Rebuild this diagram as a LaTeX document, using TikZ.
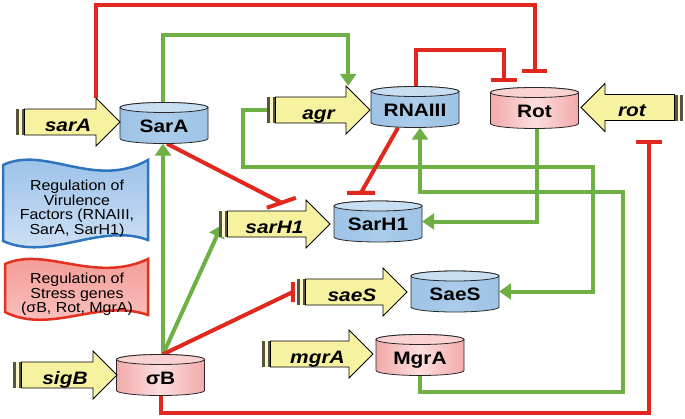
\documentclass[tikz,border=0pt]{standalone}
\usepackage{fontspec}
\setmainfont{Liberation Sans}
\newfontfamily\labfont[FakeStretch=1.16]{Liberation Sans}
\newfontfamily\banfont[FakeStretch=1.1]{Liberation Sans}
\usetikzlibrary{arrows.meta,calc}
\pgfdeclarelayer{canvas}
\pgfdeclarelayer{background}
\pgfsetlayers{canvas,background,main}
\definecolor{actgreen}{RGB}{110,176,68}
\definecolor{inhred}{RGB}{224,40,30}
\definecolor{geneyellow}{RGB}{246,242,160}
\definecolor{stripedark}{RGB}{88,84,60}
\definecolor{stripelight}{RGB}{250,248,200}
\definecolor{cylblue}{RGB}{157,195,230}
\definecolor{cylbluetop}{RGB}{200,222,242}
\definecolor{cylpink}{RGB}{243,170,170}
\definecolor{cylpinkmid}{RGB}{252,222,222}
\definecolor{cylpinktop}{RGB}{250,210,210}
\definecolor{cyledge}{RGB}{40,40,40}
\definecolor{banblue}{RGB}{150,190,232}
\definecolor{banbluelight}{RGB}{212,228,246}
\definecolor{banblueedge}{RGB}{46,117,190}
\definecolor{banred}{RGB}{244,150,146}
\definecolor{banredlight}{RGB}{250,200,196}
\definecolor{banrededge}{RGB}{228,48,30}
\tikzset{
  conn/.style={line width=4pt},
  act/.style={conn, draw=actgreen, -{Triangle[width=16pt,length=12pt]}},
  inh/.style={conn, draw=inhred},
  bluebody/.style={left color=cylblue, right color=cylblue, middle color=cylblue!85!white},
  bluetop/.style={fill=cylbluetop},
  pinkbody/.style={left color=cylpink, right color=cylpink, middle color=cylpinkmid},
  pinktop/.style={fill=cylpinktop},
  cyllabel/.style={inner sep=0pt, text height=18.5pt, text depth=0pt,
    font=\labfont\fontsize{18}{20}\selectfont\bfseries},
  genebody/.style={draw=black, line width=0.8pt, fill=geneyellow},
  genelabel/.style={inner sep=0pt, text height=18.5pt, text depth=0pt,
    font=\labfont\fontsize{18}{20}\selectfont\bfseries\itshape},
  bannertext/.style={align=center, inner sep=0pt,
    font=\banfont\fontsize{14.5}{14.5}\selectfont},
}
% cylinder: name, cx, cy, kind, label
\newcommand\cyl[5]{%
  \path[#4body, draw=cyledge, line width=0.8pt]
    (#2-44,#3-15.5) -- (#2-44,#3+15.5)
    arc[start angle=180, end angle=0, x radius=44, y radius=5]
    -- (#2+44,#3-15.5)
    arc[start angle=360, end angle=180, x radius=44, y radius=5] -- cycle;
  \draw[#4top, draw=cyledge, line width=0.8pt] (#2,#3-15.5) ellipse[x radius=44, y radius=5];
  \node[cyllabel, minimum width=88pt, minimum height=41pt] (#1) at (#2,#3) {#5};
}
% gene arrow pointing right: name, tail x, tip x, cy, label
\newcommand\gener[5]{%
  \fill[stripedark] (#2,#4-13) rectangle (#2+3,#4+13);
  \fill[stripelight] (#2+3,#4-13) rectangle (#2+5.5,#4+13);
  \fill[stripedark] (#2+5.5,#4-13) rectangle (#2+8.5,#4+13);
  \draw[genebody] (#2+8.5,#4-13) -- (#3-24,#4-13) -- (#3-24,#4-24) -- (#3,#4)
    -- (#3-24,#4+24) -- (#3-24,#4+13) -- (#2+8.5,#4+13) -- cycle;
  \node[genelabel, minimum width=#3pt-#2pt, minimum height=48pt] (#1) at ({(#2+#3)/2},#4) {#5};
}
% gene arrow pointing left: name, tail x, tip x, cy, label
\newcommand\genel[5]{%
  \fill[stripedark] (#2,#4-13) rectangle (#2-3,#4+13);
  \fill[stripelight] (#2-3,#4-13) rectangle (#2-5.5,#4+13);
  \fill[stripedark] (#2-5.5,#4-13) rectangle (#2-8.5,#4+13);
  \draw[genebody] (#2-8.5,#4-13) -- (#3+24,#4-13) -- (#3+24,#4-24) -- (#3,#4)
    -- (#3+24,#4+24) -- (#3+24,#4+13) -- (#2-8.5,#4+13) -- cycle;
  \node[genelabel, minimum width=#2pt-#3pt, minimum height=48pt] (#1) at ({(#2+#3)/2},#4) {#5};
}
\begin{document}
\begin{tikzpicture}[x=1pt,y=-1pt]
\begin{pgfonlayer}{canvas}
\fill[white] (0,0) rectangle (685,418);
\end{pgfonlayer}
\useasboundingbox (0,0) rectangle (685,418);

% banners
\path[draw=banblueedge, line width=2.5pt, top color=banblue, bottom color=banbluelight]
  (3,165) .. controls (45,145) and (95,190) .. (148,160) -- (148,240)
  .. controls (100,222) and (50,262) .. (3,241) -- cycle;
\node[bannertext] (vir) at (77,208.5) {Regulation of\\Virulence\\Factors (RNAIII,\\SarA, SarH1)};
\path[draw=banrededge, line width=2.5pt, top color=banred, bottom color=banredlight]
  (5,264) .. controls (45,246) and (95,284) .. (148,259) -- (148,315)
  .. controls (100,298) and (50,335) .. (5,312) -- cycle;
\node[bannertext] (str) at (77,294.5) {Regulation of\\Stress genes\\(σB, Rot, MgrA)};

% proteins
\cyl{SarA}{164}{123}{blue}{SarA}
\cyl{RNAIII}{415}{107}{blue}{RNAIII}
\cyl{Rot}{534.5}{108}{pink}{Rot}
\cyl{SarH1}{378}{221.5}{blue}{SarH1}
\cyl{SaeS}{455}{291.5}{blue}{SaeS}
\cyl{MgrA}{420}{355}{pink}{MgrA}
\cyl{sB}{160.5}{375}{pink}{σB}

% genes
\gener{sarAg}{16}{120}{122}{sarA}
\gener{agrg}{267}{370}{110}{agr}
\genel{rotg}{683}{581}{107.5}{rot}
\gener{sarH1g}{219}{330}{224}{sarH1}
\gener{saeSg}{297}{407}{292}{saeS}
\gener{mgrAg}{262}{373}{354}{mgrA}
\gener{sigBg}{13}{117}{375}{sigB}

\begin{pgfonlayer}{background}
% activations
\draw[act] ($(SarA.north)+(-1,0)$) |- ($(agrg.north east)+(-22,-51)$) -- ($(agrg.north east)+(-22,0)$);
\draw[act] ($(Rot.south)+(2,0)$) |- (SarH1.east);
\draw[act] (agrg.west) -- ++(-24,0) |- ($(SaeS.east)+(94,-124.5)$) |- (SaeS.east);
\draw[act] (MgrA.south) |- ($(MgrA.south)+(203,16.5)$) |- ($(RNAIII.south)+(5,64.5)$) -- ($(RNAIII.south)+(5,0)$);
\draw[act] ($(sB.north)+(2.5,0)$) -- ($(SarA.south)+(-1,0)$);
\draw[act] ($(sB.north)+(2.5,0)$) -- ($(sarH1g.west)+(3,1)$);
% inhibitions
\draw[inh] ($(sarAg.north east)+(-24,0)$) |- ($(Rot.north)+(0,-82.5)$) -- ($(Rot.north)+(0,-16)$) ++(-12.5,0) -- ++(25,0);
\draw[inh] ($(RNAIII.north)+(1,0)$) |- ($(Rot.north)+(-31,-37)$) -- ($(Rot.north)+(-31,-7)$) ++(-13,0) -- ++(26,0);
\draw[inh] ($(SarA.south)+(3,0)$) -- ($(sarH1g.north west)+(63,3)$) ++(-15,5) -- ++(29,-10);
\draw[inh] ($(RNAIII.south)+(-17,0)$) -- ($(SarH1.north)+(-17,-8)$) ++(-14,0) -- ++(28,0);
\draw[inh] (sB.south) |- ($(rotg.south)+(17,281)$) -- ($(rotg.south)+(17,10)$) ++(-13,0) -- ++(26,0);
\draw[inh] ($(sB.north)+(2.5,0)$) -- ($(saeSg.west)+(-4,0)$) ++(0,-10) -- ++(0,20);
\end{pgfonlayer}
\end{tikzpicture}
\end{document}
